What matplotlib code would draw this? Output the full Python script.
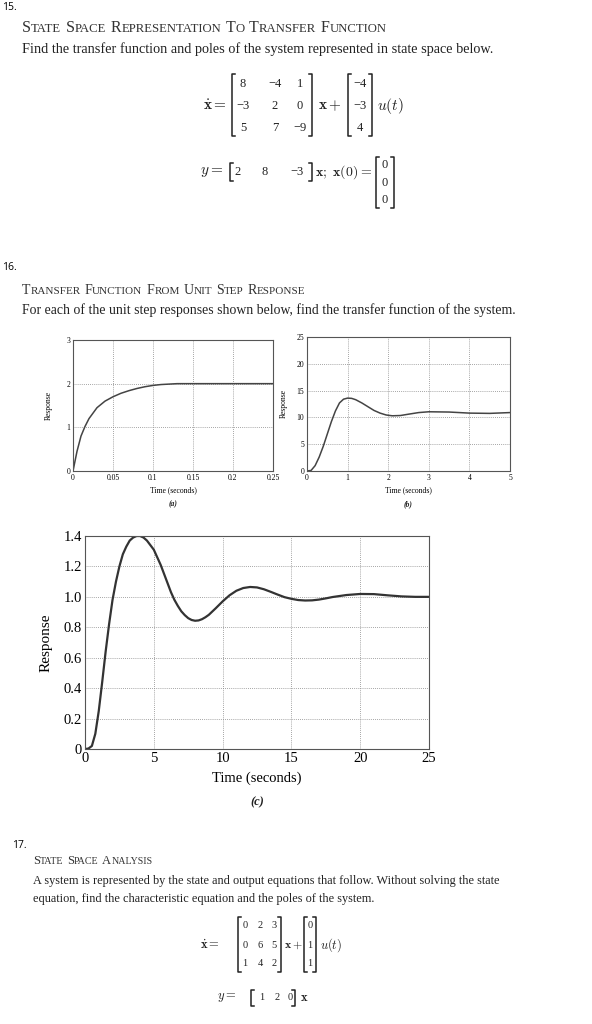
import matplotlib
matplotlib.use("Agg")
import matplotlib.pyplot as plt
from matplotlib.lines import Line2D

plt.rcParams['font.family'] = ['Liberation Serif', 'DejaVu Serif']
plt.rcParams['mathtext.fontset'] = 'cm'

# step response (a)
ta = [0, 0.005, 0.01, 0.015, 0.02, 0.03, 0.04, 0.05, 0.06, 0.07, 0.08, 0.09, 0.1, 0.11, 0.12, 0.13, 0.15, 0.2, 0.25]
ya = [0, 0.45, 0.8, 1.02, 1.2, 1.45, 1.6, 1.7, 1.78, 1.84, 1.89, 1.93, 1.96, 1.98, 1.99, 2.0, 2.0, 2.0, 2.0]
# step response (b)
tb = [0, 0.1, 0.2, 0.3, 0.4, 0.5, 0.6, 0.7, 0.8, 0.9, 1.0, 1.1, 1.2, 1.35, 1.5, 1.65, 1.8, 1.95, 2.1, 2.3, 2.5, 2.75, 3.0, 3.5, 4.0, 4.5, 5.0]
yb = [0, 0.1, 1.0, 2.6, 4.6, 6.9, 9.2, 11.2, 12.7, 13.4, 13.6, 13.55, 13.3, 12.7, 12.0, 11.3, 10.8, 10.45, 10.3, 10.35, 10.6, 10.9, 11.05, 11.0, 10.8, 10.75, 10.9]
# step response (c)
tc = [0, 0.25, 0.5, 0.75, 1, 1.25, 1.5, 1.75, 2, 2.25, 2.5, 2.75, 3, 3.25, 3.5, 3.75, 4, 4.25, 4.5, 4.75, 5, 5.25, 5.5, 5.75,
      6, 6.25, 6.5, 6.75, 7, 7.25, 7.5, 7.75, 8, 8.25, 8.5, 8.75, 9, 9.5, 10, 10.5, 11, 11.5, 12, 12.5, 13, 13.5, 14,
      14.5, 15, 15.5, 16, 16.5, 17, 17.5, 18, 19, 20, 21, 22, 23, 24, 25]
yc = [0, 0.003, 0.02, 0.1, 0.25, 0.44, 0.64, 0.82, 0.98, 1.1, 1.2, 1.28, 1.33, 1.37, 1.39, 1.4, 1.4, 1.39, 1.37, 1.34, 1.31,
      1.26, 1.21, 1.15, 1.09, 1.03, 0.98, 0.94, 0.905, 0.88, 0.86, 0.848, 0.843, 0.845, 0.853, 0.866, 0.882, 0.925, 0.97,
      1.01, 1.04, 1.058, 1.065, 1.062, 1.05, 1.033, 1.015, 0.998, 0.987, 0.979, 0.976, 0.977, 0.982, 0.99, 0.999, 1.012,
      1.019, 1.018, 1.01, 1.003, 1.0, 1.0]

A15 = [["8", "−4", "1"], ["−3", "2", "0"], ["5", "7", "−9"]]
B15 = [["−4"], ["−3"], ["4"]]
C15 = [["2", "8", "−3"]]
X0 = [["0"], ["0"], ["0"]]
A17 = [["0", "2", "3"], ["0", "6", "5"], ["1", "4", "2"]]
B17 = [["0"], ["1"], ["1"]]
C17 = [["1", "2", "0"]]

W, H = 592, 1024
fig = plt.figure(figsize=(W / 100, H / 100), dpi=100)
fig.patch.set_facecolor('white')


def px(x, y):
    return x / W, 1 - y / H


def txt(x, y, s, size=9, **kw):
    kw.setdefault('va', 'center')
    kw.setdefault('color', '#222222')
    return fig.text(*px(x, y), s, fontsize=size, **kw)


def smallcaps(x, y, s, size=9):
    r = fig.canvas.get_renderer()
    for word in s.split():
        for i, part in enumerate([word[0], word[1:].upper()]):
            if not part:
                continue
            t = txt(x, y, part, size=size if i == 0 else size * 0.8, va='baseline', color='#333333')
            x += t.get_window_extent(r).width
        x += size * 0.4


def bracket(x, y0, y1, side, lw=1.1):
    d = 3 if side == 'l' else -3
    xs = [x + d, x, x, x + d]
    ys = [y0, y0, y1, y1]
    fig.add_artist(Line2D([a / W for a in xs], [1 - b / H for b in ys],
                          transform=fig.transFigure, color='#222222', lw=lw))


def matrix(rows, xs, ys, xl, xr, yt, yb, size=9):
    for r, yy in zip(rows, ys):
        for v, xx in zip(r, xs):
            txt(xx, yy, v, size=size, ha='center')
    bracket(xl, yt, yb, 'l')
    bracket(xr, yt, yb, 'r')


# problem 15
txt(2, 8, "15.", size=7.5, family=['Open Sans'], color='black')
smallcaps(22, 32, "State Space Representation To Transfer Function", size=11.5)
txt(22, 49, "Find the transfer function and poles of the system represented in state space below.", size=10.3)
txt(203, 106, r"$\dot{\mathbf{x}}=$", size=11)
matrix(A15, [243, 275, 300], [84, 106, 128], 232, 312, 74, 136)
txt(318, 106, r"$\mathbf{x}+$", size=11)
matrix(B15, [360, 360, 360], [84, 106, 128], 348, 372, 74, 136)
txt(377, 106, r"$u(t)$", size=11)
txt(200, 172, r"$y=$", size=11)
matrix(C15, [238, 265, 297], [172], 230, 312, 163, 181)
txt(315, 172, r"$\mathbf{x};\ \mathbf{x}(0)=$", size=10)
matrix(X0, [385, 385, 385], [165, 183, 200], 376, 394, 157, 208)

# problem 16
txt(2, 268, "16.", size=7.5, family=['Open Sans'], color='black')
smallcaps(22, 294, "Transfer Function From Unit Step Response", size=10)
txt(22, 310, "For each of the unit step responses shown below, find the transfer function of the system.", size=9.9)


def style(ax, fs):
    ax.grid(True, linestyle=(0, (1, 1.5)), color='#888888', lw=0.6)
    ax.tick_params(labelsize=fs, length=0, pad=2)
    for s in ax.spines.values():
        s.set_color('#555555')
        s.set_linewidth(0.8)


def axes_px(x0, y0, x1, y1):
    l, b = px(x0, y1)
    return fig.add_axes([l, b, (x1 - x0) / W, (y1 - y0) / H])


axa = axes_px(73, 340, 273, 471)
axa.plot(ta, ya, color='#444444', lw=1.1)
axa.set_xlim(0, 0.25)
axa.set_ylim(0, 3)
axa.set_xticks([0, 0.05, 0.1, 0.15, 0.2, 0.25])
axa.set_xticklabels(["0", "0.05", "0.1", "0.15", "0.2", "0.25"])
axa.set_yticks([0, 1, 2, 3])
style(axa, 5.5)
axa.set_xlabel("Time (seconds)", fontsize=5.5, labelpad=3)
axa.set_ylabel("Response", fontsize=5.5, labelpad=10)
txt(173, 504, "(a)", size=5.5, ha='center', style='italic', weight='bold')

axb = axes_px(307, 337, 510, 471)
axb.plot(tb, yb, color='#444444', lw=1.1)
axb.set_xlim(0, 5)
axb.set_ylim(0, 25)
axb.set_yticks([0, 5, 10, 15, 20, 25])
style(axb, 5.5)
axb.set_xlabel("Time (seconds)", fontsize=5.5, labelpad=3)
axb.set_ylabel("Response", fontsize=5.5, labelpad=6)
txt(408, 504, "(b)", size=5.5, ha='center', style='italic', weight='bold')

axc = axes_px(85, 536, 429, 749)
axc.plot(tc, yc, color='#333333', lw=1.6)
axc.set_xlim(0, 25)
axc.set_ylim(0, 1.4)
axc.set_yticks([0, 0.2, 0.4, 0.6, 0.8, 1.0, 1.2, 1.4])
axc.set_yticklabels(["0", "0.2", "0.4", "0.6", "0.8", "1.0", "1.2", "1.4"])
style(axc, 10.5)
axc.set_xlabel("Time (seconds)", fontsize=10.5, labelpad=5)
axc.set_ylabel("Response", fontsize=11, labelpad=8)
txt(257, 802, "(c)", size=9, ha='center', style='italic', weight='bold')

# problem 17
txt(12, 846, "17.", size=7.5, family=['Open Sans'], color='black')
smallcaps(33, 864, "State Space Analysis", size=9)
txt(33, 881, "A system is represented by the state and output equations that follow. Without solving the state", size=8.8)
txt(33, 899, "equation, find the characteristic equation and the poles of the system.", size=8.8)
txt(200, 945, r"$\dot{\mathbf{x}}=$", size=9)
matrix(A17, [245, 260, 274], [926, 945, 963], 238, 281, 917, 972, size=7.5)
txt(284, 945, r"$\mathbf{x}+$", size=8.5)
matrix(B17, [310, 310, 310], [926, 945, 963], 304, 316, 917, 972, size=7.5)
txt(320, 945, r"$u(t)$", size=9)
txt(217, 998, r"$y=$", size=9)
matrix(C17, [262, 277, 290], [998], 251, 295, 990, 1006, size=7.5)
txt(300, 998, r"$\mathbf{x}$", size=9)

fig.savefig("out.png", dpi=100)
